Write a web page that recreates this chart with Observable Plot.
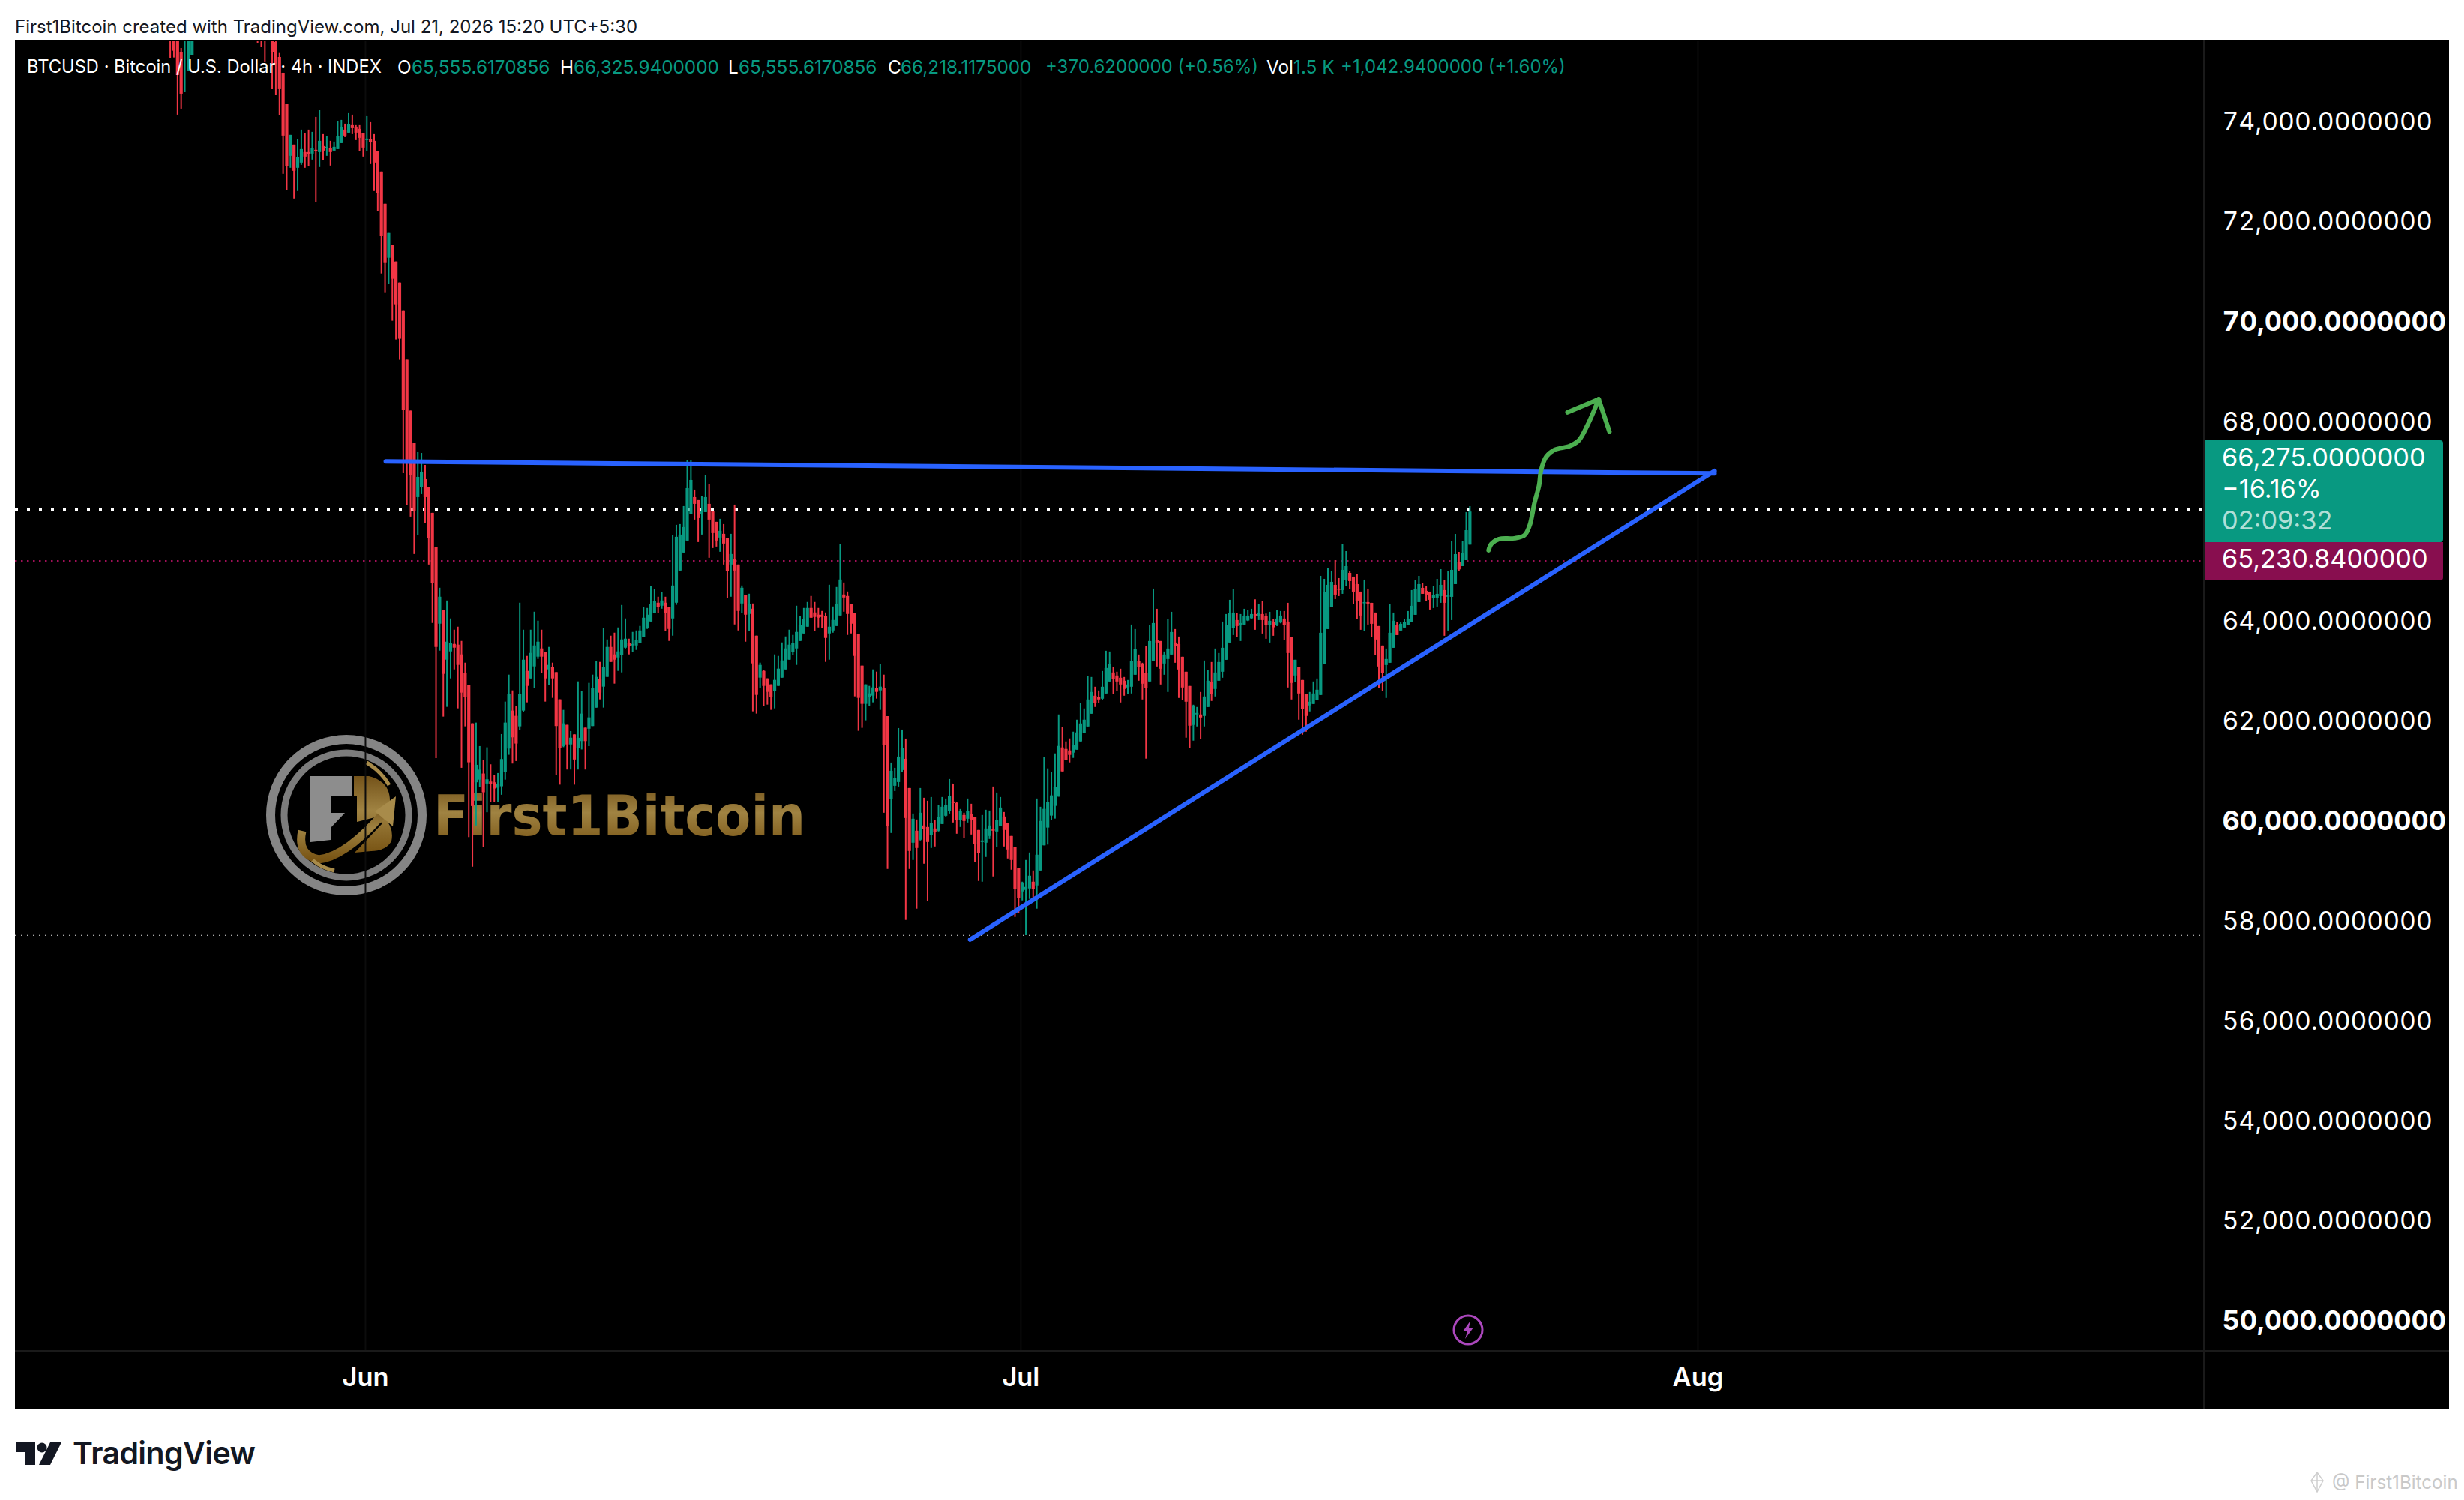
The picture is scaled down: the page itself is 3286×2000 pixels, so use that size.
<!DOCTYPE html>
<html><head><meta charset="utf-8">
<script src="https://cdn.jsdelivr.net/npm/d3@7"></script>
<script src="https://cdn.jsdelivr.net/npm/@observablehq/plot@0.6"></script>
<style>
html,body{margin:0;padding:0;background:#fff}
#page{position:relative;width:3286px;height:2000px;overflow:hidden;background:#fff;font-family:Inter,"Liberation Sans",sans-serif}
#page>*{position:absolute}
.t{white-space:nowrap;line-height:1}
.leg{top:77px;font-size:24.3px;color:#fff}
.val{color:#089981}
.tag{left:2963px;font-size:34.3px;color:#fff;white-space:nowrap;line-height:1}
</style></head><body>
<div id="page">
  <div style="left:20px;top:54px;width:3246px;height:1825px;background:#000"></div>
  <svg id="logo" width="3286" height="2000" style="left:0;top:0">
    <defs><linearGradient id="gold" x1="0" y1="0" x2="0" y2="1">
      <stop offset="0" stop-color="#74531a"/><stop offset=".45" stop-color="#a08342"/><stop offset="1" stop-color="#785414"/></linearGradient></defs>
    <circle cx="462" cy="1087" r="101" fill="none" stroke="#858585" stroke-width="12"/>
    <circle cx="462" cy="1087" r="83" fill="none" stroke="#7c7c7c" stroke-width="9"/>
    <path d="M414 1035H470V1062H441V1084H460L441 1104V1120L414 1123Z" fill="#8d8d8d"/>
    <path d="M472 1035H492Q520 1042 520 1068Q520 1082 512 1090Q526 1104 522 1122Q514 1135 495 1135L473 1137L510 1098L500 1090L476 1096V1062H472Z" fill="url(#gold)"/>
    <path d="M403 1108Q396 1140 425 1146Q465 1142 522 1072" fill="none" stroke="url(#gold)" stroke-width="11"/>
    <path d="M528 1062L524 1102L500 1082Z" fill="#a88b4a"/>
    <path d="M489 1017Q508 1028 519 1047" fill="none" stroke="#a88b4a" stroke-width="5"/>
    <path d="M417 1147Q428 1157 446 1161" fill="none" stroke="#a88b4a" stroke-width="5"/>
    <text x="578" y="1114" textLength="496" lengthAdjust="spacingAndGlyphs" font-family="DejaVu Sans" font-weight="700" font-size="74" fill="url(#gold)">First1Bitcoin</text>
  </svg>
  <div id="chart" style="left:0;top:0"></div>
  <div style="left:2938px;top:54px;width:2px;height:1825px;background:#1a1a1a"></div>
  <div style="left:20px;top:1800px;width:3246px;height:2px;background:#1a1a1a"></div>

  <div class="t" style="left:20px;top:24px;font-size:24px;color:#131722">First1Bitcoin created with TradingView.com, Jul 21, 2026 15:20 UTC+5:30</div>
  <div class="t leg" style="left:36px;font-size:23.7px">BTCUSD · Bitcoin / U.S. Dollar · 4h · INDEX</div>
  <div class="t leg" style="left:530px">O</div><div class="t leg val" style="left:549px">65,555.6170856</div>
  <div class="t leg" style="left:747px">H</div><div class="t leg val" style="left:765px">66,325.9400000</div>
  <div class="t leg" style="left:971px">L</div><div class="t leg val" style="left:985px">65,555.6170856</div>
  <div class="t leg" style="left:1184px">C</div><div class="t leg val" style="left:1201px">66,218.1175000</div>
  <div class="t leg val" style="left:1394px;font-size:24px">+370.6200000 (+0.56%)</div>
  <div class="t leg" style="left:1689px">Vol</div><div class="t leg val" style="left:1725px">1.5 K</div>
  <div class="t leg val" style="left:1788px;font-size:24px">+1,042.9400000 (+1.60%)</div>

  <div style="left:2940px;top:587px;width:318px;height:136px;background:#089981;border-radius:0 4px 4px 0"></div>
  <div style="left:2940px;top:723px;width:318px;height:51px;background:#880e4f;border-radius:0 0 4px 0"></div>
  <div class="tag" style="top:593px">66,275.0000000</div>
  <div class="tag" style="top:635px">−16.16%</div>
  <div class="tag" style="top:677px;color:rgba(255,255,255,.7)">02:09:32</div>
  <div class="tag" style="top:728px">65,230.8400000</div>

  <svg width="50" height="50" style="left:1933px;top:1748px" viewBox="0 0 50 50">
    <circle cx="25" cy="25" r="19" fill="none" stroke="#ab47bc" stroke-width="3"/>
    <path d="M28 13L18 27H24L21 37L32 22H26Z" fill="#ab47bc"/>
  </svg>

  <svg width="70" height="40" style="left:20px;top:1920px" viewBox="0 0 70 40">
    <path d="M1 3H27V33H14V16H1Z" fill="#131722"/><circle cx="36" cy="10" r="6.5" fill="#131722"/>
    <path d="M47 3H62L47 33H32Z" fill="#131722"/>
  </svg>
  <div class="t" style="left:97px;top:1917px;font-size:41px;font-weight:600;color:#131722;letter-spacing:-.6px">TradingView</div>
  <div class="t" style="left:3110px;top:1965px;font-size:24.2px;color:#c9c9c9">@ First1Bitcoin</div>
  <svg width="18" height="28" style="left:3081px;top:1962px" viewBox="0 0 18 28"><path d="M9 1L17 12L9 27L1 12Z M1 12H17 M9 1V27" fill="none" stroke="#cfcfcf" stroke-width="1.5"/></svg>
</div>
<script>
// Each row: open, high, low, close (USD). null = bar hidden above the chart's top edge.
const earlyBars = [
[76300,76500,75305,75700],[76000,76200,75310,75445],[75900,76000,74165,74960],[75410,75500,74285,74585],
[75700,76200,74615,76000],[75050,76100,75050,75900],[75350,76200,75350,76000]];
const hiddenBarCount = 17;
const slideBars = [
[76300,76400,75595,75800],[76200,76300,75515,75700],[76100,76200,75230,75650],null,
[76000,76100,74675,75410],[75620,75800,74555,75185],[75320,75400,74150,74690],[75005,75005,72980,73745],
[74375,74375,72650,73130],[73340,73760,73100,73760],[73565,73565,72485,73040],[73100,73670,72635,73310],
[73205,73865,73160,73475],[73415,73790,73100,73325],[73415,73865,73130,73370],[73385,73820,73265,73490],
[73460,74120,72410,73430],[73415,74255,73115,73640],[73535,73775,73250,73445],[73490,73730,73340,73520],
[73490,73640,73145,73415],[73445,73625,73430,73520],[73475,74030,73475,73730],[73595,74060,73595,73910],
[73865,73985,73715,73745],[73805,74210,73790,73970],[73955,74165,73775,73895],[73925,73955,73655,73805],
[73880,73955,73430,73700],[73790,73790,73325,73505],[73655,74135,73430,73685],[73670,74015,73175,73610],
[73640,73775,72635,73205],[73430,73430,72230,72590],[73025,73025,70985,71735],[72380,72380,70610,71210],
[71300,71810,70775,71810],[71555,71555,70040,70880],[71225,71225,69665,70370],[70805,70805,69260,69680],
[70250,70250,66987,68255],[69260,69260,66342,67197],[68240,68240,66117,66942],[67602,67602,65367,66237]];
const juneBars = [
[66507,67422,65742,66912],[66702,67392,66567,67017],[66867,67152,65982,66507],[66702,66702,65157,65682],
[66192,66192,63987,64782],[65502,65502,61282,63507],[63972,64692,63432,64512],[64242,64242,62112,62967],
[63252,64437,62307,63612],[63417,64077,62877,63582],[63567,63852,63057,63492],[63552,63912,62277,63147],
[63357,63627,61087,62592],[62982,63192,61917,62502],[62742,62742,59700,61197],[61977,61977,59107,60322],
[60797,61992,59932,61147],[60850,61522,60700,61050],[60972,61247,59497,60597],[60772,61497,60197,60857],
[60812,61157,60397,60757],[60797,60947,60397,60672],[60687,60982,60397,60757],[60717,61762,60547,61262],
[60997,62412,60850,61992],[61472,62952,61347,62562],[62232,62637,61172,61697],[62127,62322,61222,61572],
[61917,64392,61850,62562],[62232,63852,62200,63252],[63027,63327,62397,62727],[62877,63852,62877,63387],
[63117,64212,62682,63537],[63312,64032,63267,63612],[63477,63852,62982,63312],[63402,63402,62412,62877],
[63057,63507,62742,63147],[63102,63192,62487,62877],[63002,63002,60950,61923],[62457,62457,60750,61487],
[61521,62247,61500,61977],[61947,61947,61052,61555],[61555,61822,61052,61690],[61756,61756,60750,61253],
[61487,62817,61052,61688],[61622,62622,61454,62172],[61890,61890,61052,61622],[61869,62787,61521,62097],
[61923,62952,61923,62682],[62292,63222,62292,62907],[62862,63207,62457,62592],[62712,63882,62292,63102],
[62907,63657,62907,63507],[63507,63732,63207,63207],[63357,63792,62772,63252],[63297,63897,63027,63417],
[63342,64347,62997,63657],[63492,64077,63477,63672],[63582,63672,63357,63522],[63537,63807,63402,63567],
[63537,63837,63447,63642],[63582,63927,63582,63837],[63702,64302,63702,64092],[63882,64287,63867,64152],
[64017,64722,64017,64362],[64182,64662,64182,64422],[64392,64512,64182,64302],[64332,64602,64272,64437],
[64392,64512,63822,64182],[64302,64302,63627,63867],[64077,65742,63732,64737],[64392,65952,64350,65712]];
const midJuneBars = [
[65037,65967,65037,65757],[65397,66327,65397,65907],[65637,67257,65637,66687],[66162,67257,66162,66852],
[66507,66657,66057,66372],[66447,66447,65607,66087],[66162,66522,65757,66237],[66207,66942,66207,66507],
[66372,66762,65292,66057],[66222,66222,65487,65787],[66012,66012,65517,65637],[65697,66072,65412,65832],
[65772,65967,65157,65577],[65682,65682,64482,65022],[65157,65772,64512,65367],[65262,66357,63957,65037],
[65157,65157,63837,64227],[64377,64737,64182,64692],[64542,64542,63612,64152],[64167,64572,63822,64362],
[64272,64377,62217,63177],[63732,63732,62172,62547],[62892,63192,62682,63147],[63027,63042,62322,62727],
[62877,62877,62352,62607],[62757,62757,62247,62502],[62622,63357,62277,62847],[62727,63327,62727,63072],
[62892,63597,62892,63237],[63057,63717,63057,63477],[63252,63852,63252,63552],[63402,63747,63342,63582],
[63477,64332,63147,63807],[63627,64122,63627,63942],[63777,64287,63777,64062],[63912,64407,63912,64287],
[64287,64527,64092,64092],[64197,64407,63822,64107],[64152,64287,63897,64092],[64152,64227,63882,64107],
[64122,64197,63207,63687],[63777,64752,63252,63912],[63837,64317,63792,64047],[63927,64707,63927,64362],
[64137,65562,64137,64857],[64557,64797,64212,64497],[64527,64617,63747,64167],[64362,64362,63777,63972],
[64182,64182,62517,63327],[63762,63762,61827,62487],[63132,63132,61887,62367],[62367,62757,62037,62757],
[62502,62727,62322,62577],[62532,63057,62397,62697],[62682,63012,62472,62607],[62637,63162,62247,62712],
[62677,62952,60187,61537]];
const lowBars = [
[62122,62122,59062,59917],[60457,61192,59782,61027],[60727,61087,60622,60877],[60802,61882,60712,61312],
[61042,61852,60997,61477],[61267,61672,58042,60082],[60682,60682,59062,59422],[59587,60172,59242,60067],
[59827,60052,58267,59482],[59647,60682,59632,60187],[59932,60487,59167,59857],[59902,60427,58417,59602],
[59737,60502,59482,59977],[59872,60037,59512,59797],[59827,60337,59812,60097],[59962,60502,59962,60307],
[60127,60472,60112,60337],[60217,60862,60172,60517],[60412,60772,59992,60382],[60382,60397,59767,60037],
[60037,60262,59902,60217],[60142,60187,59677,60022],[60067,60472,59992,60217],[60157,60367,59752,60037],
[60097,60097,59197,59557],[59842,59842,58822,59377],[59602,60142,58807,59632],[59587,60247,59302,59872],
[59722,60232,59662,59932],[59857,60712,58912,59827],[59812,60592,59497,60037],[59917,60502,59917,60292],
[60112,60202,59512,59842],[59977,59977,59272,59452],[59722,59722,59047,59242],[59497,59497,58102,58657],
[59077,59077,58177,58477],[58612,58807,58432,58792],[58642,59242,57747,58702],[58672,59392,58462,58927],
[58807,59032,58432,58657],[58732,60472,58267,59347],[59032,60307,59032,60022]];
const julyBars = [
[59535,61300,59535,60265],[59890,61075,59550,60400],[60130,61000,60040,60535],[60325,61375,60070,60700],
[60510,62155,60510,61525],[61495,61900,61015,61015],[61465,61615,61240,61240],[61435,61675,61195,61345],
[61390,61810,61285,61540],[61450,62050,61450,61795],[61615,62380,61615,61975],[61780,62275,61780,62050],
[61915,62920,61915,62455],[62170,62905,62170,62605],[62530,62710,62305,62380],[62500,62635,62380,62455],
[62470,63025,62440,62710],[62575,63430,62575,63085],[62815,63415,62815,63160],[62995,63100,62560,62860],
[62935,63010,62620,62815],[62890,63070,62395,62755],[62830,62905,62530,62665],[62695,62845,62560,62755],
[62710,63955,62575,63220],[62950,63865,62950,63460],[63220,63355,62830,63100],[63160,63190,62455,62770],
[62980,63520,61270,62680],[62815,63940,62815,63625],[63220,64675,63220,63985],[63640,64270,63115,63595],
[63625,63625,62755,63070],[63175,63415,62950,63355],[63265,64060,62605,63475],[63355,64210,63355,63805],
[63595,63865,63190,63520],[63565,63715,62485,63055],[63310,63310,62440,62695],[63010,63010,61690,62410],
[62725,62725,61480,61930],[61945,62350,61630,62335],[62155,62305,61915,62185],[62155,62605,61660,62095],
[62125,63235,61915,62515],[62305,63040,62305,62830],[62800,63205,62425,62560],[62665,63475,62515,62995],
[62830,63385,62830,63205],[63010,64015,62890,63490],[63250,64165,63250,63940],[63595,64450,63595,64180],
[63880,64660,63745,64195],[64045,64180,63700,63925],[63940,64165,63625,63985],[63955,64270,63955,64120]];
const lateJulyBars = [
[64035,64240,64025,64135],[64080,64270,64075,64165],[64165,64460,63850,64135],[64120,64360,64045,64195],
[64165,64420,63775,64045],[64120,64175,63670,63940],[63940,64210,63595,64030],[64000,64060,63730,63900],
[63940,64250,63925,64075],[63995,64225,63980,64135],[64075,64225,63640,63940],[64015,64390,62695,63385],
[63700,63700,62455,62785],[62935,63250,62800,63250],[63100,63100,62050,62575],[62845,62845,61750,62260],
[62560,62560,61810,62125],[62335,62605,62215,62410],[62365,62815,62365,62575],[62450,62875,62440,62650],
[62545,64930,62545,63790],[63160,64870,63160,64600],[63865,65080,63865,64750],[64300,65035,64300,64810],
[64750,65245,64465,64555],[64675,64885,64525,64650],[64645,65560,64570,65050],[64840,65425,64720,65125],
[64990,65035,64660,64825],[64915,64915,64360,64615],[64765,64960,64060,64435],[64615,64615,63850,64135],
[64380,64855,63820,64405],[64405,64675,63955,64375],[64390,64390,63700,63970],[64195,64195,63340,63655],
[63925,63925,62680,63115],[63535,63535,62620,62980],[63145,63475,62485,63265],[63190,64360,63190,63790],
[63490,64195,63490,64030],[63940,64000,63745,63745],[63835,64000,63835,63970],[63895,64060,63895,64000],
[63940,64225,63940,64075],[64000,64645,64000,64330],[64150,64840,64150,64675],[64405,64930,64405,64765],
[64690,64780,64570,64570],[64630,64720,64420,64555],[64600,64615,64255,64450],[64480,64720,64285,64540],
[64495,64870,64315,64570],[64525,65065,64390,64750],[64645,64840,63730,64390],[64510,65020,63835,64540],
[64510,65635,64045,65050],[64765,65770,64765,65365],[65200,65410,65035,65060],[65125,65620,65125,65380],
[65245,66205,65245,65845],[65555.6,66325.9,65555.6,66218.1]];

const priceTicks = [50000,52000,54000,56000,58000,60000,62000,64000,68000,70000,72000,74000];
const boldTicks = [50000,60000,70000];
const monthTicks = ["2026-06-01","2026-07-01","2026-08-01"];
const lastBarTime = "2026-07-21T13:30Z";

const lastClose = 66275, prevClose = 65230.84, rangeLow = 57750;

// Drawn objects, in days after 1 June and USD.
const resistanceDays = [0.93, 61.76];
const resistancePrices = [67231, 66991];
const supportDays = [27.68, 61.76];
const supportPrices = [57658, 67040];
const arrowDays = [51.42,51.54,51.90,52.60,53.06,53.30,53.52,53.73,53.82,54.06,54.43,55.13,55.55,55.94,56.25,56.46];
const arrowPrices = [65450,65575,65676,65690,65751,65950,66401,66751,67051,67327,67462,67537,67652,67952,68252,68477];
const headDays = [55.03,56.46,56.95];
const headPrices = [68213,68477,67827];

const day0 = Date.UTC(2026,5,1);
const fromDays = d => new Date(day0 + d*864e5);
const pairs = (ds,ps) => ds.map((d,i)=>({t:fromDays(d),p:ps[i]}));

const rows = [...earlyBars, ...Array(hiddenBarCount).fill(null), ...slideBars, ...juneBars, ...midJuneBars, ...lowBars, ...julyBars, ...lateJulyBars];
const end = new Date(lastBarTime);
const bars = rows.map((r,i)=> r && ({t:d3.utcHour.offset(end, -4*(rows.length-1-i)), o:r[0], h:r[1], l:r[2], c:r[3]})).filter(Boolean);
const up = bars.filter(b=>b.c>=b.o), down = bars.filter(b=>b.c<b.o);
const GREEN="#089981", RED="#f23645";

const tickDates = monthTicks.map(s=>new Date(s+"T00:00Z"));
const regular = priceTicks.filter(p=>!boldTicks.includes(p));

const plot = Plot.plot({
  width:3286, height:2000,
  marginLeft:20, marginRight:348, marginTop:55, marginBottom:199,
  style:{background:"transparent",fontFamily:"Inter, Liberation Sans, sans-serif",overflow:"visible"},
  x:{type:"utc",domain:[fromDays(-16.03),fromDays(84.14)],axis:null},
  y:{domain:[49419,75635],axis:null},
  marks:[
    Plot.ruleX(tickDates,{stroke:"#0c0c0c",strokeWidth:2}),
    Plot.ruleY([rangeLow],{stroke:"#e8e8e8",strokeWidth:2,strokeDasharray:"2 6"}),
    Plot.ruleY([prevClose],{stroke:"#a01058",strokeWidth:3,strokeDasharray:"2.5 5.5"}),
    Plot.ruleY([lastClose],{stroke:"#fff",strokeWidth:4,strokeDasharray:"4 12"}),
    Plot.ruleX(up,{x:"t",y1:"l",y2:"h",stroke:GREEN,strokeWidth:2,clip:true}),
    Plot.ruleX(down,{x:"t",y1:"l",y2:"h",stroke:RED,strokeWidth:2,clip:true}),
    Plot.ruleX(up,{x:"t",y1:"o",y2:"c",stroke:GREEN,strokeWidth:4.2,clip:true}),
    Plot.ruleX(down,{x:"t",y1:"o",y2:"c",stroke:RED,strokeWidth:4.2,clip:true}),
    Plot.line(pairs(resistanceDays,resistancePrices),{x:"t",y:"p",stroke:"#2962ff",strokeWidth:6,strokeLinecap:"round"}),
    Plot.line(pairs(supportDays,supportPrices),{x:"t",y:"p",stroke:"#2962ff",strokeWidth:6,strokeLinecap:"round"}),
    Plot.line(pairs(arrowDays,arrowPrices),{x:"t",y:"p",stroke:"#4caf50",strokeWidth:6,curve:"catmull-rom",strokeLinecap:"round"}),
    Plot.line(pairs(headDays,headPrices),{x:"t",y:"p",stroke:"#4caf50",strokeWidth:6,strokeLinecap:"round",strokeLinejoin:"round"}),
    Plot.axisY(regular,{anchor:"right",label:null,tickSize:0,tickPadding:25,fontSize:33.7,fill:"#fff",dy:-1,tickFormat:d3.format(",.7f")}),
    Plot.axisY(boldTicks,{anchor:"right",label:null,tickSize:0,tickPadding:25,fontSize:36,fontWeight:700,fill:"#fff",dy:-1,tickFormat:d3.format(",.7f")}),
    Plot.axisX(tickDates,{anchor:"bottom",label:null,tickSize:0,tickPadding:22,fontSize:34.4,fontWeight:600,fill:"#fff",tickFormat:d3.utcFormat("%b")})
  ]
});
document.getElementById("chart").appendChild(plot);
</script>
</body></html>
